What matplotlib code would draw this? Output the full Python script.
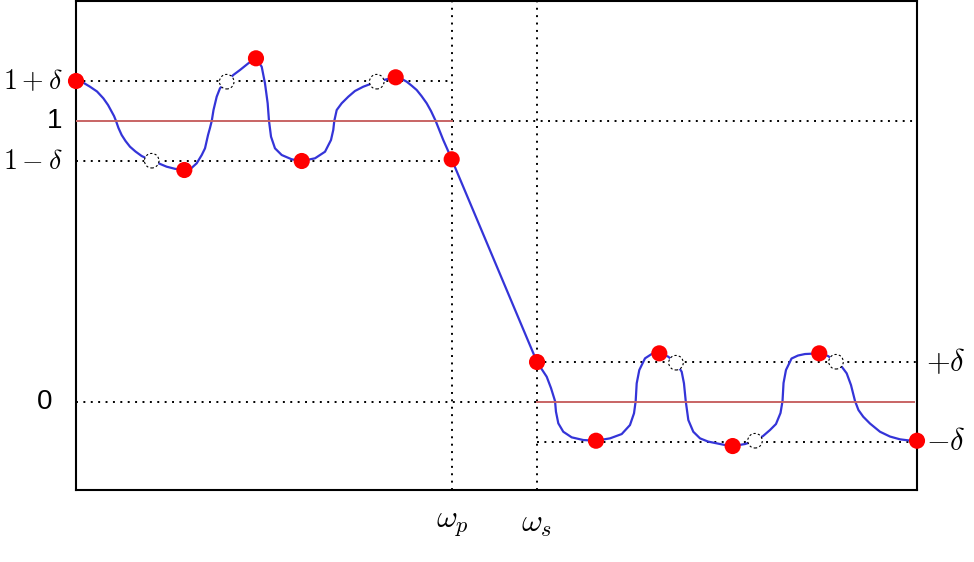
import matplotlib
matplotlib.use("Agg")
import matplotlib.pyplot as plt

plt.rcParams['mathtext.fontset'] = 'cm'

# bande passante / coupure (frequence normalisee 0..1)
delta = 0.142
w_p = 0.447
w_s = 0.548

# reponse
omega = [0.0, 0.0083, 0.0166, 0.0250, 0.0325, 0.0381, 0.0424, 0.0452, 0.0476, 0.0505,
         0.0543, 0.0589, 0.0642, 0.0707, 0.0781, 0.0900, 0.0987, 0.1078, 0.1177, 0.1288,
         0.1367, 0.1435, 0.1495, 0.1534, 0.1570, 0.1593, 0.1614, 0.1635, 0.1673, 0.1712,
         0.1792, 0.1870, 0.1950, 0.2049, 0.2140,
         0.2208, 0.2247, 0.2279, 0.2295, 0.2319, 0.2366, 0.2446, 0.2565, 0.2684, 0.2842,
         0.2961, 0.3032, 0.3059, 0.3071, 0.3100, 0.3159, 0.3238, 0.3317, 0.3416, 0.3576,
         0.3694, 0.3801,
         0.3864, 0.3932, 0.3989, 0.4051, 0.4108, 0.4170, 0.4221, 0.4277, 0.4322, 0.4367,
         0.4417, 0.4467,
         0.5482, 0.5541, 0.5597, 0.5648, 0.5696, 0.5707, 0.5735, 0.5794, 0.5894, 0.6032,
         0.6183, 0.6350, 0.6489, 0.6587, 0.6635, 0.6655, 0.6667, 0.6698, 0.6766, 0.6845,
         0.6936,
         0.7039, 0.7134, 0.7202, 0.7229, 0.7250, 0.7281, 0.7340, 0.7420, 0.7515, 0.7618,
         0.7717, 0.7808,
         0.7955, 0.8074, 0.8169, 0.8252, 0.8323, 0.8377, 0.8401, 0.8413, 0.8442, 0.8508,
         0.8585, 0.8668, 0.8838,
         0.8942, 0.9037, 0.9108, 0.9164, 0.9215, 0.9263, 0.9304, 0.9361, 0.9441, 0.9560,
         0.9679, 0.9798, 0.9893, 1.0]
H = [1.1423, 1.1370, 1.1221, 1.1050, 1.0808, 1.0569, 1.0331, 1.0178, 1.0, 0.9751,
     0.9502, 0.9288, 0.9085, 0.8915, 0.8754, 0.8587, 0.8488, 0.8374, 0.8299, 0.8256,
     0.8310, 0.8495, 0.8790, 0.9028, 0.9502, 0.9751, 1.0, 1.0391, 1.0865, 1.1164,
     1.1399, 1.1637, 1.1815, 1.2053, 1.2231,
     1.1932, 1.1342, 1.0630, 1.0, 0.9441, 0.9028, 0.8790, 0.8637, 0.8577, 0.8673,
     0.8907, 0.9324, 0.9680, 1.0, 1.0391, 1.0630, 1.0865, 1.1068, 1.1221, 1.1399,
     1.1484, 1.1555,
     1.1512, 1.1399, 1.1263, 1.1103, 1.0890, 1.0630, 1.0356, 1.0, 0.9662, 0.9324,
     0.8986, 0.8637,
     0.1423, 0.1157, 0.0900, 0.0498, 0.0036, -0.0345, -0.0758, -0.1057, -0.1256, -0.1352,
     -0.1377, -0.1292, -0.1139, -0.0819, -0.0402, 0.0036, 0.0665, 0.1139, 0.1555, 0.1708,
     0.1733,
     0.1619, 0.1399, 0.1078, 0.0665, 0.0036, -0.0641, -0.1057, -0.1292, -0.1406, -0.1470,
     -0.1530, -0.1566,
     -0.1495, -0.1377, -0.1210, -0.0996, -0.0783, -0.0391, 0.0036, 0.0676, 0.1139, 0.1548,
     0.1655, 0.1708, 0.1733,
     0.1637, 0.1434, 0.1246, 0.1021, 0.0605, 0.0036, -0.0285, -0.0523, -0.0765, -0.1057,
     -0.1228, -0.1327, -0.1363, -0.1377]

# points extremaux (rouges)
ext_w = [0.0, 0.1288, 0.2140, 0.2684, 0.3801, 0.4467, 0.5482, 0.6183, 0.6936, 0.7808, 0.8838, 1.0]
ext_h = [1.1423, 0.8256, 1.2231, 0.8577, 1.1555, 0.8637, 0.1423, -0.1377, 0.1733, -0.1566, 0.1733, -0.1377]

# points ouverts (cercles pointilles)
open_w = [0.0900, 0.1792, 0.3576, 0.7134, 0.8074, 0.9037]
open_h = [0.8587, 1.1399, 1.1399, 0.1399, -0.1377, 0.1434]

fig = plt.figure(figsize=(9.74, 5.62), dpi=100)
ax = fig.add_axes([76 / 974, 1 - 490 / 562, 841 / 974, 489 / 562])
ax.set_xlim(0, 1)
ax.set_ylim(-0.313, 1.427)

dot = dict(color='black', linestyle=(0, (1, 2.8)), linewidth=1.4, zorder=1)
ax.plot([0, w_p], [1 + delta, 1 + delta], **dot)
ax.plot([0, w_p], [1 - delta, 1 - delta], **dot)
ax.plot([w_p, 1], [1, 1], **dot)
ax.plot([0, w_s], [0, 0], **dot)
ax.plot([w_s, 1], [delta, delta], **dot)
ax.plot([w_s, 1], [-delta, -delta], **dot)
ax.axvline(w_p, **dot)
ax.axvline(w_s, **dot)

# reponse ideale
ax.plot([0, w_p], [1, 1], color='#c86464', linewidth=1.4, zorder=3)
ax.plot([w_s, 0.997], [0, 0], color='#c86464', linewidth=1.4, zorder=3)

ax.plot(omega, H, color='#3434d8', linewidth=1.6, zorder=2)

ax.scatter(ext_w, ext_h, s=135, color='#ff0000', edgecolors='none', zorder=5, clip_on=False)
ax.scatter(open_w, open_h, s=110, facecolors='white', edgecolors='black',
           linewidths=0.8, linestyles=(0, (2, 2)), zorder=4)

ax.set_xticks([])
ax.set_yticks([])
for s in ax.spines.values():
    s.set_linewidth(1.5)

yt = ax.get_yaxis_transform()
ax.text(-0.0155, 1 + delta, r'$1+\delta$', transform=yt, ha='right', va='center', fontsize=20)
ax.text(-0.0166, 1, '1', transform=yt, ha='right', va='center', fontsize=20, family='Liberation Sans')
ax.text(-0.0155, 1 - delta, r'$1-\delta$', transform=yt, ha='right', va='center', fontsize=20)
ax.text(-0.037, 0, '0', transform=yt, ha='center', va='center', fontsize=20, family='Liberation Sans')
ax.text(1.011, delta, r'$+\delta$', transform=yt, ha='left', va='center', fontsize=22)
ax.text(1.011, -delta, r'$-\delta$', transform=yt, ha='left', va='center', fontsize=22)

xt = ax.get_xaxis_transform()
ax.text(w_p, -0.068, r'$\omega_p$', transform=xt, ha='center', va='center', fontsize=23)
ax.text(w_s, -0.068, r'$\omega_s$', transform=xt, ha='center', va='center', fontsize=23)

fig.savefig('out.png', dpi=100)
